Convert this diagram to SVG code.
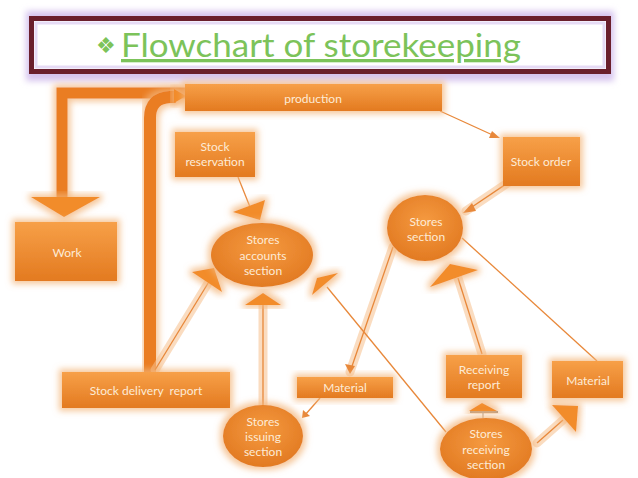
<svg xmlns="http://www.w3.org/2000/svg" width="638" height="478" viewBox="0 0 638 478">
<defs>
<style>
.t{font-family:Lato,"Open Sans","DejaVu Sans",sans-serif;font-size:12px;fill:#fdebd6;text-anchor:middle}
.box{fill:url(#og);filter:url(#glow)}
.thin{stroke:#e8883a;stroke-width:1.3;fill:none}
.halo{stroke:#f6c08c;stroke-opacity:0.55;stroke-width:9;fill:none;stroke-linecap:round}
.head{fill:#f28c2a;filter:url(#glow)}
.thick{stroke:#ea7d22;fill:none;filter:url(#glow)}
</style>
<linearGradient id="og" x1="0" y1="0" x2="0" y2="1">
<stop offset="0" stop-color="#f7a048"/>
<stop offset="1" stop-color="#e37a20"/>
</linearGradient>
<radialGradient id="eg" cx="0.5" cy="0.4" r="0.6">
<stop offset="0" stop-color="#f59a40"/>
<stop offset="1" stop-color="#e27a22"/>
</radialGradient>
<filter id="glow" x="-30%" y="-30%" width="160%" height="160%">
<feMorphology in="SourceAlpha" operator="dilate" radius="3" result="d"/>
<feGaussianBlur in="d" stdDeviation="3" result="b"/>
<feFlood flood-color="#f3b57a" flood-opacity="0.75"/>
<feComposite in2="b" operator="in" result="g"/>
<feMerge><feMergeNode in="g"/><feMergeNode in="SourceGraphic"/></feMerge>
</filter>
<filter id="pglow" x="-10%" y="-30%" width="120%" height="160%">
<feGaussianBlur stdDeviation="3"/>
</filter>
</defs>
<rect width="638" height="478" fill="#ffffff"/>

<g id="title">
<rect x="26" y="11" width="588" height="70" fill="#d6c3ee" filter="url(#pglow)"/>
<rect x="31.5" y="18.5" width="577" height="53" fill="#ffffff" stroke="#6a1f2c" stroke-width="5"/>
<rect x="36" y="23" width="568" height="44" fill="none" stroke="#e6dbf5" stroke-width="3"/>
<text x="96" y="53" font-family="'DejaVu Sans',sans-serif" font-size="22" fill="#7cc35a">❖</text>
<text x="121" y="57" font-family="Lato,'Open Sans',sans-serif" font-size="33" fill="#7cc35a" text-decoration="underline" textLength="400" lengthAdjust="spacingAndGlyphs">Flowchart of storekeeping</text>
</g>

<g id="connectors">
<path class="thick" d="M185,93 H62 V198" stroke-width="11"/>
<polygon class="head" points="31,197 100,197 64,217"/>
<path class="thick" d="M150,372 V118 Q150,98 170,97 H176" stroke-width="12"/>
<polygon class="head" points="174,89 186,96 174,103"/>
<line class="thin" x1="440" y1="111" x2="497" y2="137"/>
<polygon points="492,131 500,138 489,138" fill="#e8883a"/>
<line class="thin" x1="238" y1="177" x2="250" y2="207"/>
<polygon class="head" points="233,212 265,200 260,220"/>
<line class="halo" x1="512" y1="180" x2="466" y2="211"/>
<line class="thin" x1="512" y1="180" x2="466" y2="211"/>
<polygon points="472,203 463,213 476,211" fill="#e8883a"/>
<line class="halo" x1="393" y1="247" x2="350" y2="372"/>
<line class="thin" x1="393" y1="247" x2="350" y2="372"/>
<polygon points="345,364 350,374 355,366" fill="#e8883a"/>
<line class="thin" x1="462" y1="238" x2="597" y2="361"/>
<line class="halo" x1="482" y1="354" x2="458" y2="278"/>
<line class="thin" x1="482" y1="354" x2="458" y2="278"/>
<polygon class="head" points="430,287 450,264 478,270"/>
<line class="halo" x1="155" y1="370" x2="210" y2="280"/>
<line class="thin" x1="155" y1="370" x2="210" y2="280"/>
<polygon class="head" points="192,272 214,268 222,292"/>
<line class="halo" x1="263" y1="405" x2="263" y2="305"/>
<line class="thin" x1="263" y1="405" x2="263" y2="305"/>
<polygon class="head" points="245,305 263,293 281,305"/>
<line class="thin" x1="446" y1="432" x2="327" y2="287"/>
<polygon class="head" points="312,295 317,278 338,273"/>
<line class="thin" x1="320" y1="398" x2="305" y2="415"/>
<polygon points="303,410 302,418 310,416" fill="#e8883a"/>
<line x1="470" y1="412" x2="498" y2="412" stroke="#9a8f86" stroke-width="2"/>
<polygon class="head" points="469,411 482,403 497,411"/>
<line x1="483" y1="412" x2="483" y2="418" stroke="#b9a99a" stroke-width="1.2"/>
<line class="halo" x1="537" y1="443" x2="563" y2="420"/>
<line class="thin" x1="537" y1="443" x2="563" y2="420"/>
<polygon class="head" points="552,405 578,406 576,432"/>
</g>

<g id="production">
<rect class="box" x="185" y="84" width="257" height="27"/>
<text class="t" x="313" y="103" font-size="13">production</text>
</g>
<g id="work">
<rect class="box" x="15" y="222" width="102" height="59"/>
<text class="t" x="67" y="257">Work</text>
</g>
<g id="stock-reservation">
<rect class="box" x="175" y="132" width="80" height="45"/>
<text class="t" x="215" y="151">Stock</text>
<text class="t" x="215" y="166">reservation</text>
</g>
<g id="stock-order">
<rect class="box" x="503" y="137" width="77" height="49"/>
<text class="t" x="541" y="166">Stock order</text>
</g>
<g id="stores-section">
<ellipse cx="425" cy="228" rx="38" ry="33" fill="url(#eg)" filter="url(#glow)"/>
<text class="t" x="426" y="226">Stores</text>
<text class="t" x="426" y="241">section</text>
</g>
<g id="stores-accounts-section">
<ellipse cx="262" cy="255" rx="51" ry="32" fill="url(#eg)" filter="url(#glow)"/>
<text class="t" x="263" y="244">Stores</text>
<text class="t" x="263" y="260">accounts</text>
<text class="t" x="263" y="275">section</text>
</g>
<g id="stock-delivery-report">
<rect class="box" x="62" y="372" width="168" height="36"/>
<text class="t" x="146" y="395" xml:space="preserve">Stock delivery  report</text>
</g>
<g id="material-mid">
<rect class="box" x="297" y="377" width="96" height="21"/>
<text class="t" x="345" y="392">Material</text>
</g>
<g id="receiving-report">
<rect class="box" x="446" y="355" width="76" height="43"/>
<text class="t" x="484" y="374">Receiving</text>
<text class="t" x="484" y="389">report</text>
</g>
<g id="material-right">
<rect class="box" x="552" y="361" width="71" height="37"/>
<text class="t" x="588" y="385">Material</text>
</g>
<g id="stores-issuing-section">
<ellipse cx="263" cy="436" rx="40" ry="31" fill="url(#eg)" filter="url(#glow)"/>
<text class="t" x="263" y="426">Stores</text>
<text class="t" x="263" y="441">issuing</text>
<text class="t" x="263" y="456">section</text>
</g>
<g id="stores-receiving-section">
<ellipse cx="486" cy="449" rx="46" ry="31" fill="url(#eg)" filter="url(#glow)"/>
<text class="t" x="486" y="438">Stores</text>
<text class="t" x="486" y="454">receiving</text>
<text class="t" x="486" y="469">section</text>
</g>
</svg>
